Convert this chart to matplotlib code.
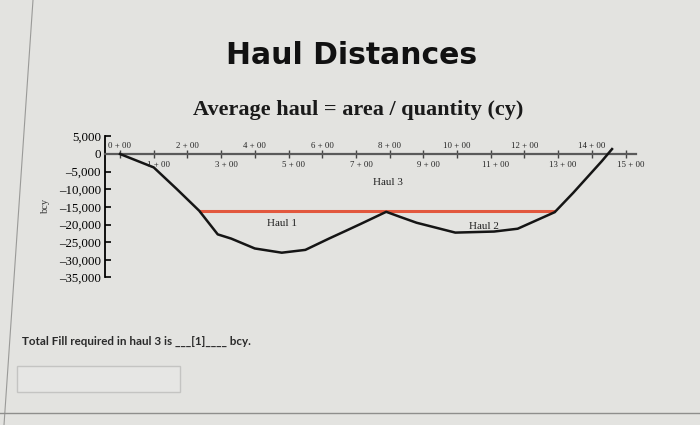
import matplotlib
matplotlib.use("Agg")
import matplotlib.pyplot as plt
from matplotlib.patches import Rectangle
from matplotlib.lines import Line2D

# mass diagram (station in 100 ft, cumulative volume in cy)
stations = [0, 1.0, 1.68, 2.35, 2.9, 3.3, 4.0, 4.8, 5.5, 6.2, 6.7, 7.15, 7.9,
            8.3, 8.8, 9.95, 11.1, 11.8, 12.9, 13.45, 14.3, 14.6]
mass = [0, -3800, -9900, -16100, -22800, -24000, -26800, -28000, -27200, -24000,
        -21800, -19800, -16400, -17800, -19500, -22300, -22000, -21200, -16500,
        -11000, -2000, 1400]

# balance line
balance_x = [2.35, 12.9]
balance_y = [-16300, -16300]

y_ticks = [5000, 0, -5000, -10000, -15000, -20000, -25000, -30000, -35000]
top_stations = [0, 2, 4, 6, 8, 10, 12, 14]
bottom_stations = [1, 3, 5, 7, 9, 11, 13, 15]

haul_labels = ["Haul 1", "Haul 2", "Haul 3"]
haul_pos = [(4.8, -19600), (10.8, -20600), (7.95, -8000)]

W, H = 700, 425
bg = "#e3e3e0"
fig = plt.figure(figsize=(7, 4.25), dpi=100, facecolor=bg)

def fx(px):
    return px / W

def fy(py):
    return 1 - py / H

# photo-ish borders
fig.add_artist(Line2D([fx(33), fx(4)], [fy(0), fy(425)], color="#9a9a98", lw=0.8))
fig.add_artist(Line2D([0, 1], [fy(413), fy(413)], color="#8e8e8c", lw=1.0))

fig.text(fx(352), fy(55), "Haul Distances", ha="center", va="center",
         fontsize=21.5, fontweight="bold", family="DejaVu Sans", color="#111111")
fig.text(fx(358), fy(110), "Average haul = area / quantity (cy)", ha="center",
         va="center", fontsize=16, fontweight="bold", family="Liberation Serif",
         color="#1a1a1a")

# main axes: station 0 at x=120px, 33.7 px per station; 0 cy at y=154px, 3.525 px per 1000 cy
px_per_st = 33.7
px_per_k = 3.525
x0, y0 = 120, 154
left_px, right_px = 105, 640
ylo, yhi = -35500, 5500
top_px = y0 - yhi / 1000 * px_per_k
bot_px = y0 - ylo / 1000 * px_per_k
ax = fig.add_axes([fx(left_px), fy(bot_px), (right_px - left_px) / W, (bot_px - top_px) / H])
ax.set_facecolor("none")
ax.set_xlim((left_px - x0) / px_per_st, (right_px - x0) / px_per_st)
ax.set_ylim(ylo, yhi)

ax.plot(balance_x, balance_y, color="#e2583e", lw=2.2, solid_capstyle="butt", zorder=2)
ax.plot(stations, mass, color="#151515", lw=1.8, zorder=3)

for s in ["top", "right"]:
    ax.spines[s].set_visible(False)
ax.spines["left"].set_bounds(-35000, 5000)
ax.spines["left"].set_linewidth(1.3)
ax.spines["bottom"].set_position(("data", 0))
ax.spines["bottom"].set_bounds((left_px - x0) / px_per_st, 15.3)
ax.spines["bottom"].set_color("#5a5a5a")
ax.spines["bottom"].set_linewidth(1.6)

ax.set_yticks(y_ticks)
ax.set_yticklabels([f"{v:,}".replace("-", "\u2013") for v in y_ticks],
                   family="Liberation Serif", fontsize=9.3)
ax.tick_params(axis="y", direction="in", length=4, width=1.2, pad=3)

ax.set_xticks(range(0, 16))
ax.set_xticklabels([])
ax.tick_params(axis="x", direction="inout", length=6, width=1.0, color="#444444")

for s in top_stations:
    ax.text(s, 2300, f"{s} + 00", ha="center", va="center", fontsize=6.3,
            family="Liberation Serif", color="#222222")
for s in bottom_stations:
    ax.text(s + 0.15, -3000, f"{s} + 00", ha="center", va="center", fontsize=6.3,
            family="Liberation Serif", color="#222222")

for lab, (sx, sy) in zip(haul_labels, haul_pos):
    ax.text(sx, sy, lab, ha="center", va="center", fontsize=8,
            family="Liberation Serif", color="#222222")

fig.text(fx(45), fy(205), "bcy", rotation=90, ha="center", va="center",
         fontsize=7.5, family="Liberation Serif", color="#333333")

fig.text(fx(22), fy(341), "Total Fill required in haul 3 is ___[1]____ bcy.",
         ha="left", va="center", fontsize=8.4, fontweight="bold", family="Lato",
         color="#2a2a2a")
fig.add_artist(Rectangle((fx(17), fy(392)), fx(163), (392 - 366) / H,
                         facecolor="#e6e6e4", edgecolor="#c4c4c2", lw=1.0))

fig.savefig("out.png", dpi=100, facecolor=bg)
